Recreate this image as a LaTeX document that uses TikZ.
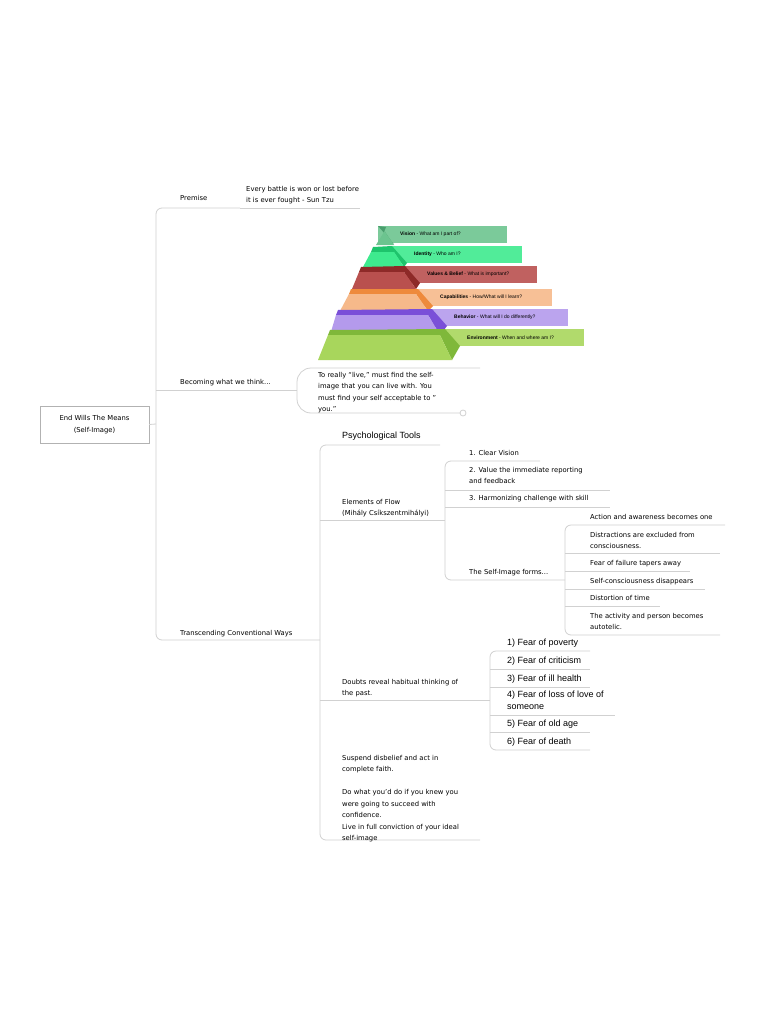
\documentclass[tikz,border=0pt]{standalone}
\usepackage{fontspec}
\setmainfont{DejaVu Sans}
\newfontfamily\plainf{Liberation Sans}
\definecolor{envc}{HTML}{A8D65C}\definecolor{envd}{HTML}{7FB83A}
\definecolor{behc}{HTML}{B49AEC}\definecolor{behd}{HTML}{7A4FD8}
\definecolor{capc}{HTML}{F6B98A}\definecolor{capd}{HTML}{EE8A3C}
\definecolor{valc}{HTML}{B9504E}\definecolor{vald}{HTML}{8E2A28}
\definecolor{idc}{HTML}{3EEA8E}\definecolor{idd}{HTML}{1EC46C}
\definecolor{visc}{HTML}{6CC48F}\definecolor{visd}{HTML}{4A9E6E}
\begin{document}
\begin{tikzpicture}[x=1pt,y=-1pt,
  t/.style={anchor=north west,inner sep=0,font=\fontsize{6.8}{11.5}\selectfont,align=left},
  tp/.style={anchor=north west,inner sep=0,font=\plainf\fontsize{9}{11.5}\selectfont,align=left},
  ln/.style={draw=black!18,line width=0.8pt,rounded corners=6pt},
  bl/.style={anchor=west,inner sep=0,font=\plainf\fontsize{5}{6}\selectfont}]
\useasboundingbox[fill=white] (0,0) rectangle (768,1024);
% root
\node[draw=black!30,minimum width=109,minimum height=37,align=center,font=\fontsize{6.8}{11.5}\selectfont] (root) at (94.5,424.5) {End Wills The Means\\(Self-Image)};
\coordinate (j) at (156,424);
\draw[ln] (root.east) -- (j);
\draw[ln] (240,208) -- (156,208) -- (156,640) -- (320,640);
\draw[ln] (156,390) -- (297,390);
\draw[ln] (240,208) -- (360,208);
\node[t] (premise) at (180,195) {Premise};
\node[t] (quote) at (246,186) {Every battle is won or lost before\\it is ever fought - Sun Tzu};
\node[t] (becoming) at (180,379) {Becoming what we think...};
\node[t] (trans) at (180,630) {Transcending Conventional Ways};
% note bubble
\draw[ln,rounded corners=14pt] (480,368) -- (297,368) -- (297,413) -- (460,413);
\draw[black!18,line width=0.8pt] (463,413) circle (3);
\node[t] (note) at (318,372) {To really ``live,'' must find the self-\\image that you can live with. You\\must find your self acceptable to ''\\you.''};
% pyramid
\foreach \yt/\yb/\tl/\bl/\tr/\br/\bx/\by/\bw/\fc/\dc/\lbl in {
  227/245/383/376/385/394/378/226/507/visc/visd/{\textbf{Vision} - What am I part of?},
  247/267/370/363/394/404/392/246/522/idc/idd/{\textbf{Identity} - Who am I?},
  267/289/358/352/404/416/405/266/537/valc/vald/{\textbf{Values \& Belief} - What is important?},
  289/311/348/340/416/428/418/289/552/capc/capd/{\textbf{Capabilities} - How/What will I learn?},
  310/335/335/330/428/440/432/309/568/behc/behd/{\textbf{Behavior} - What will I do differently?},
  330/360/327/318/440/452/445/329/584/envc/envd/{\textbf{Environment} - When and where am I?}}{
  \fill[\fc!90!white] (\bx,\by) rectangle (\bw,\by+17);
  \node[bl] at (\bx+22,\by+8.5) {\lbl};
  \fill[\dc] (\tl+3,\yt) -- (\bx,\by) -- (\bx+15,\by+17) -- (\br,\yb) -- (\tr,\yt+5) -- (\tl+1,\yt+5) -- cycle;
  \fill[\fc] (\tl+1,\yt+5) -- (\tr,\yt+5) -- (\br,\yb) -- (\bl,\yb) -- cycle;
}
% Transcending children
\draw[ln] (440,445) -- (320,445) -- (320,840) -- (480,840);
\draw[ln] (320,520) -- (445,520);
\draw[ln] (320,700) -- (490,700);
\node[tp] (psych) at (342,432) {Psychological Tools};
\node[t] (flow) at (342,499) {Elements of Flow\\(Mihály Csíkszentmihályi)};
\node[t] (doubts) at (342,679) {Doubts reveal habitual thinking of\\the past.};
\node[t] (susp) at (342,755) {Suspend disbelief and act in\\complete faith.\\[11.5pt]Do what you'd do if you knew you\\were going to succeed with\\confidence.\\Live in full conviction of your ideal\\self-image};
% flow children
\draw[ln] (540,461) -- (445,461) -- (445,580) -- (565,580);
\draw[ln] (445,490) -- (610,490);
\draw[ln] (445,507) -- (610,507);
\node[t] (f1) at (469,450) {1. Clear Vision};
\node[t] (f2) at (469,467) {2. Value the immediate reporting\\and feedback};
\node[t] (f3) at (469,495) {3. Harmonizing challenge with skill};
\node[t] (f4) at (469,569) {The Self-Image forms...};
% self-image children
\draw[ln] (725,525) -- (565,525) -- (565,635) -- (720,635);
\foreach \y/\r in {553/720,571/690,589/705,606/660}{\draw[ln] (565,\y) -- (\r,\y);}
\node[t] (s1) at (590,514) {Action and awareness becomes one};
\node[t] (s2) at (590,532) {Distractions are excluded from\\consciousness.};
\node[t] (s3) at (590,560) {Fear of failure tapers away};
\node[t] (s4) at (590,578) {Self-consciousness disappears};
\node[t] (s5) at (590,595) {Distortion of time};
\node[t] (s6) at (590,613) {The activity and person becomes\\autotelic.};
% doubts children
\draw[ln] (590,651) -- (490,651) -- (490,750) -- (590,750);
\foreach \y/\r in {669/590,687/590,715/615,732/590}{\draw[ln] (490,\y) -- (\r,\y);}
\node[tp] (d1) at (507,639) {1) Fear of poverty};
\node[tp] (d2) at (507,657) {2) Fear of criticism};
\node[tp] (d3) at (507,675) {3) Fear of ill health};
\node[tp] (d4) at (507,691) {4) Fear of loss of love of\\someone};
\node[tp] (d5) at (507,720) {5) Fear of old age};
\node[tp] (d6) at (507,738) {6) Fear of death};
\end{tikzpicture}
\end{document}
